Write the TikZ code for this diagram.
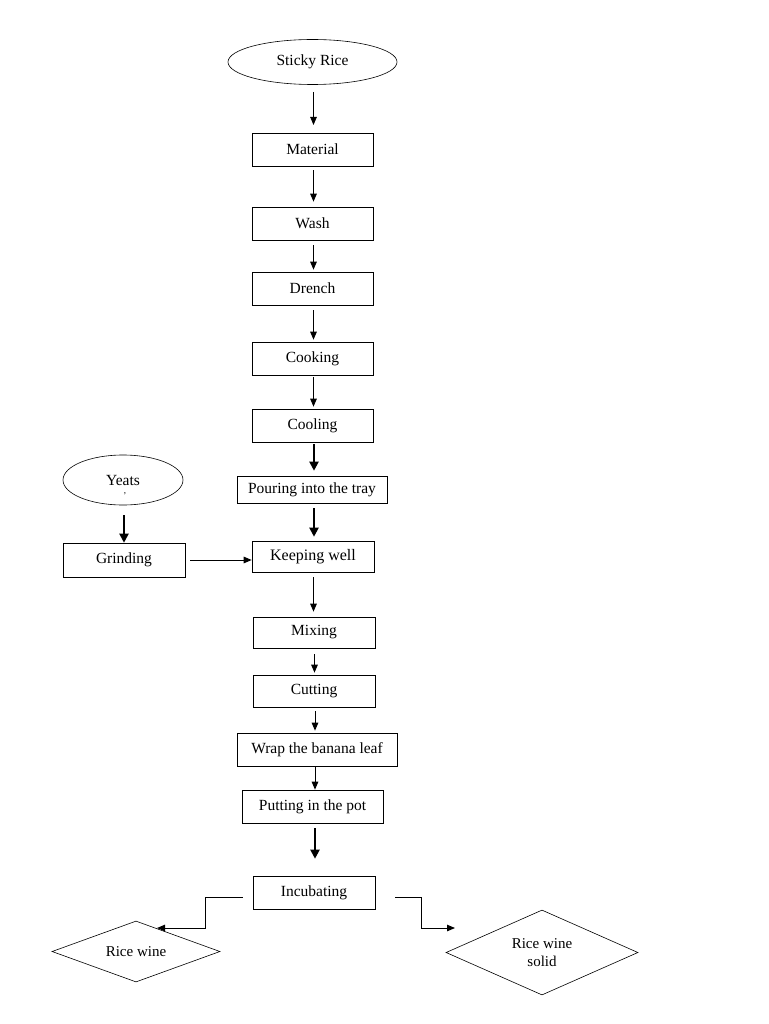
\documentclass[tikz,border=0pt]{standalone}
\usepackage{fontspec}
\setmainfont{Liberation Serif}
\usetikzlibrary{shapes.geometric,arrows.meta}
\begin{document}
\begin{tikzpicture}[x=1pt,y=-1pt,
  box/.style={draw, line width=0.6pt, minimum width=121pt, minimum height=33pt, inner sep=0pt, font=\fontsize{15.5}{18}\selectfont},
  oval/.style={draw, ellipse, line width=0.6pt, inner sep=0pt, font=\fontsize{15.5}{18}\selectfont},
  dia/.style={draw, diamond, line width=0.6pt, inner sep=0pt, align=center, font=\fontsize{15}{18}\selectfont},
  arr/.style={line width=1pt, -{Triangle[length=8pt,width=6.5pt]}},
  tarr/.style={line width=2pt, -{Triangle[length=9pt,width=9pt]}}
]
\useasboundingbox[fill=white] (0,0) rectangle (768,1024);

\node[oval, minimum width=169pt, minimum height=45pt] (sticky) at (312.5,62) {Sticky Rice};
\node[box] (material) at (312.5,149.5) {Material};
\node[box] (wash) at (312.5,223.5) {Wash};
\node[box] (drench) at (312.5,288.5) {Drench};
\node[box] (cooking) at (312.5,358.5) {Cooking};
\node[box] (cooling) at (312.5,425.5) {Cooling};
\node[box, minimum width=150pt, minimum height=27pt] (pouring) at (312,489.5) {Pouring into the tray};
\node[box, minimum width=122pt, minimum height=31pt, font=\fontsize{16}{18}\selectfont] (keeping) at (313,556.5) {Keeping well};
\node[oval, minimum width=120pt, minimum height=50pt] (yeats) at (123,480) {};
\node[font=\fontsize{15.5}{18}\selectfont] (yeatstxt) at (123,480) {Yeats};
\node[font=\fontsize{9}{9}\selectfont, inner sep=0pt] (yeatsmark) at (125,494) {,};
\node[box, minimum width=122pt, minimum height=34pt] (grinding) at (124,560) {Grinding};
\node[box, minimum width=122pt, minimum height=31pt] (mixing) at (314,632.5) {Mixing};
\node[box, minimum width=122pt, minimum height=32pt] (cutting) at (314,691) {Cutting};
\node[box, minimum width=160pt, minimum height=33pt] (wrap) at (317,749.5) {Wrap the banana leaf};
\node[box, minimum width=141pt, minimum height=33pt] (putting) at (312.5,806.5) {Putting in the pot};
\node[box, minimum width=122pt, minimum height=33pt] (incub) at (314,892.5) {Incubating};
\node[dia, aspect=2.75, minimum width=168pt, minimum height=61pt] (ricewine) at (136,951.5) {Rice wine};
\node[dia, aspect=2.26, minimum width=192pt, minimum height=85pt] (solid) at (542,952.5) {Rice wine\\solid};

\coordinate (s1) at (313.5,85);
\coordinate (m1) at (313.5,133);
\draw[arr, shorten <=7pt, shorten >=8pt] (s1) -- (m1);
\draw[arr, shorten <=4pt, shorten >=5pt] (material.south -| 313.5,0) -- (wash.north -| 313.5,0);
\draw[arr, shorten <=5pt, shorten >=2pt] (wash.south -| 313.5,0) -- (drench.north -| 313.5,0);
\draw[arr, shorten <=5pt, shorten >=2pt] (drench.south -| 313.5,0) -- (cooking.north -| 313.5,0);
\draw[arr, shorten <=2pt, shorten >=2pt] (cooking.south -| 313.5,0) -- (cooling.north -| 313.5,0);
\draw[tarr, shorten <=2pt, shorten >=5pt] (cooling.south -| 314,0) -- (pouring.north -| 314,0);
\draw[tarr, shorten <=5pt, shorten >=4pt] (pouring.south -| 314,0) -- (keeping.north -| 314,0);
\draw[tarr, shorten <=10pt, shorten >=0pt] (yeats.south -| 124,0) -- (grinding.north -| 124,0);
\draw[arr, shorten <=5pt, shorten >=0pt] (grinding.east) -- (keeping.west |- grinding.east);
\draw[arr, shorten <=5pt, shorten >=5pt] (keeping.south -| 313.5,0) -- (mixing.north -| 313.5,0);
\draw[arr, shorten <=6pt, shorten >=2pt] (mixing.south -| 314.5,0) -- (cutting.north -| 314.5,0);
\draw[arr, shorten <=4pt, shorten >=2pt] (cutting.south -| 315,0) -- (wrap.north -| 315,0);
\draw[arr, shorten <=1pt, shorten >=0pt] (wrap.south -| 315,0) -- (putting.north -| 315,0);
\draw[tarr, shorten <=5pt, shorten >=17pt] (putting.south -| 315,0) -- (incub.north -| 315,0);

\coordinate (lbend) at (205,897);
\coordinate (lend) at (157,928);
\coordinate (rbend) at (421,897);
\coordinate (rend) at (455,928);
\draw[arr, shorten <=10pt] (incub.west |- lbend) -- (lbend) |- (lend);
\draw[arr, shorten <=20pt] (incub.east |- rbend) -- (rbend) |- (rend);
\end{tikzpicture}
\end{document}
